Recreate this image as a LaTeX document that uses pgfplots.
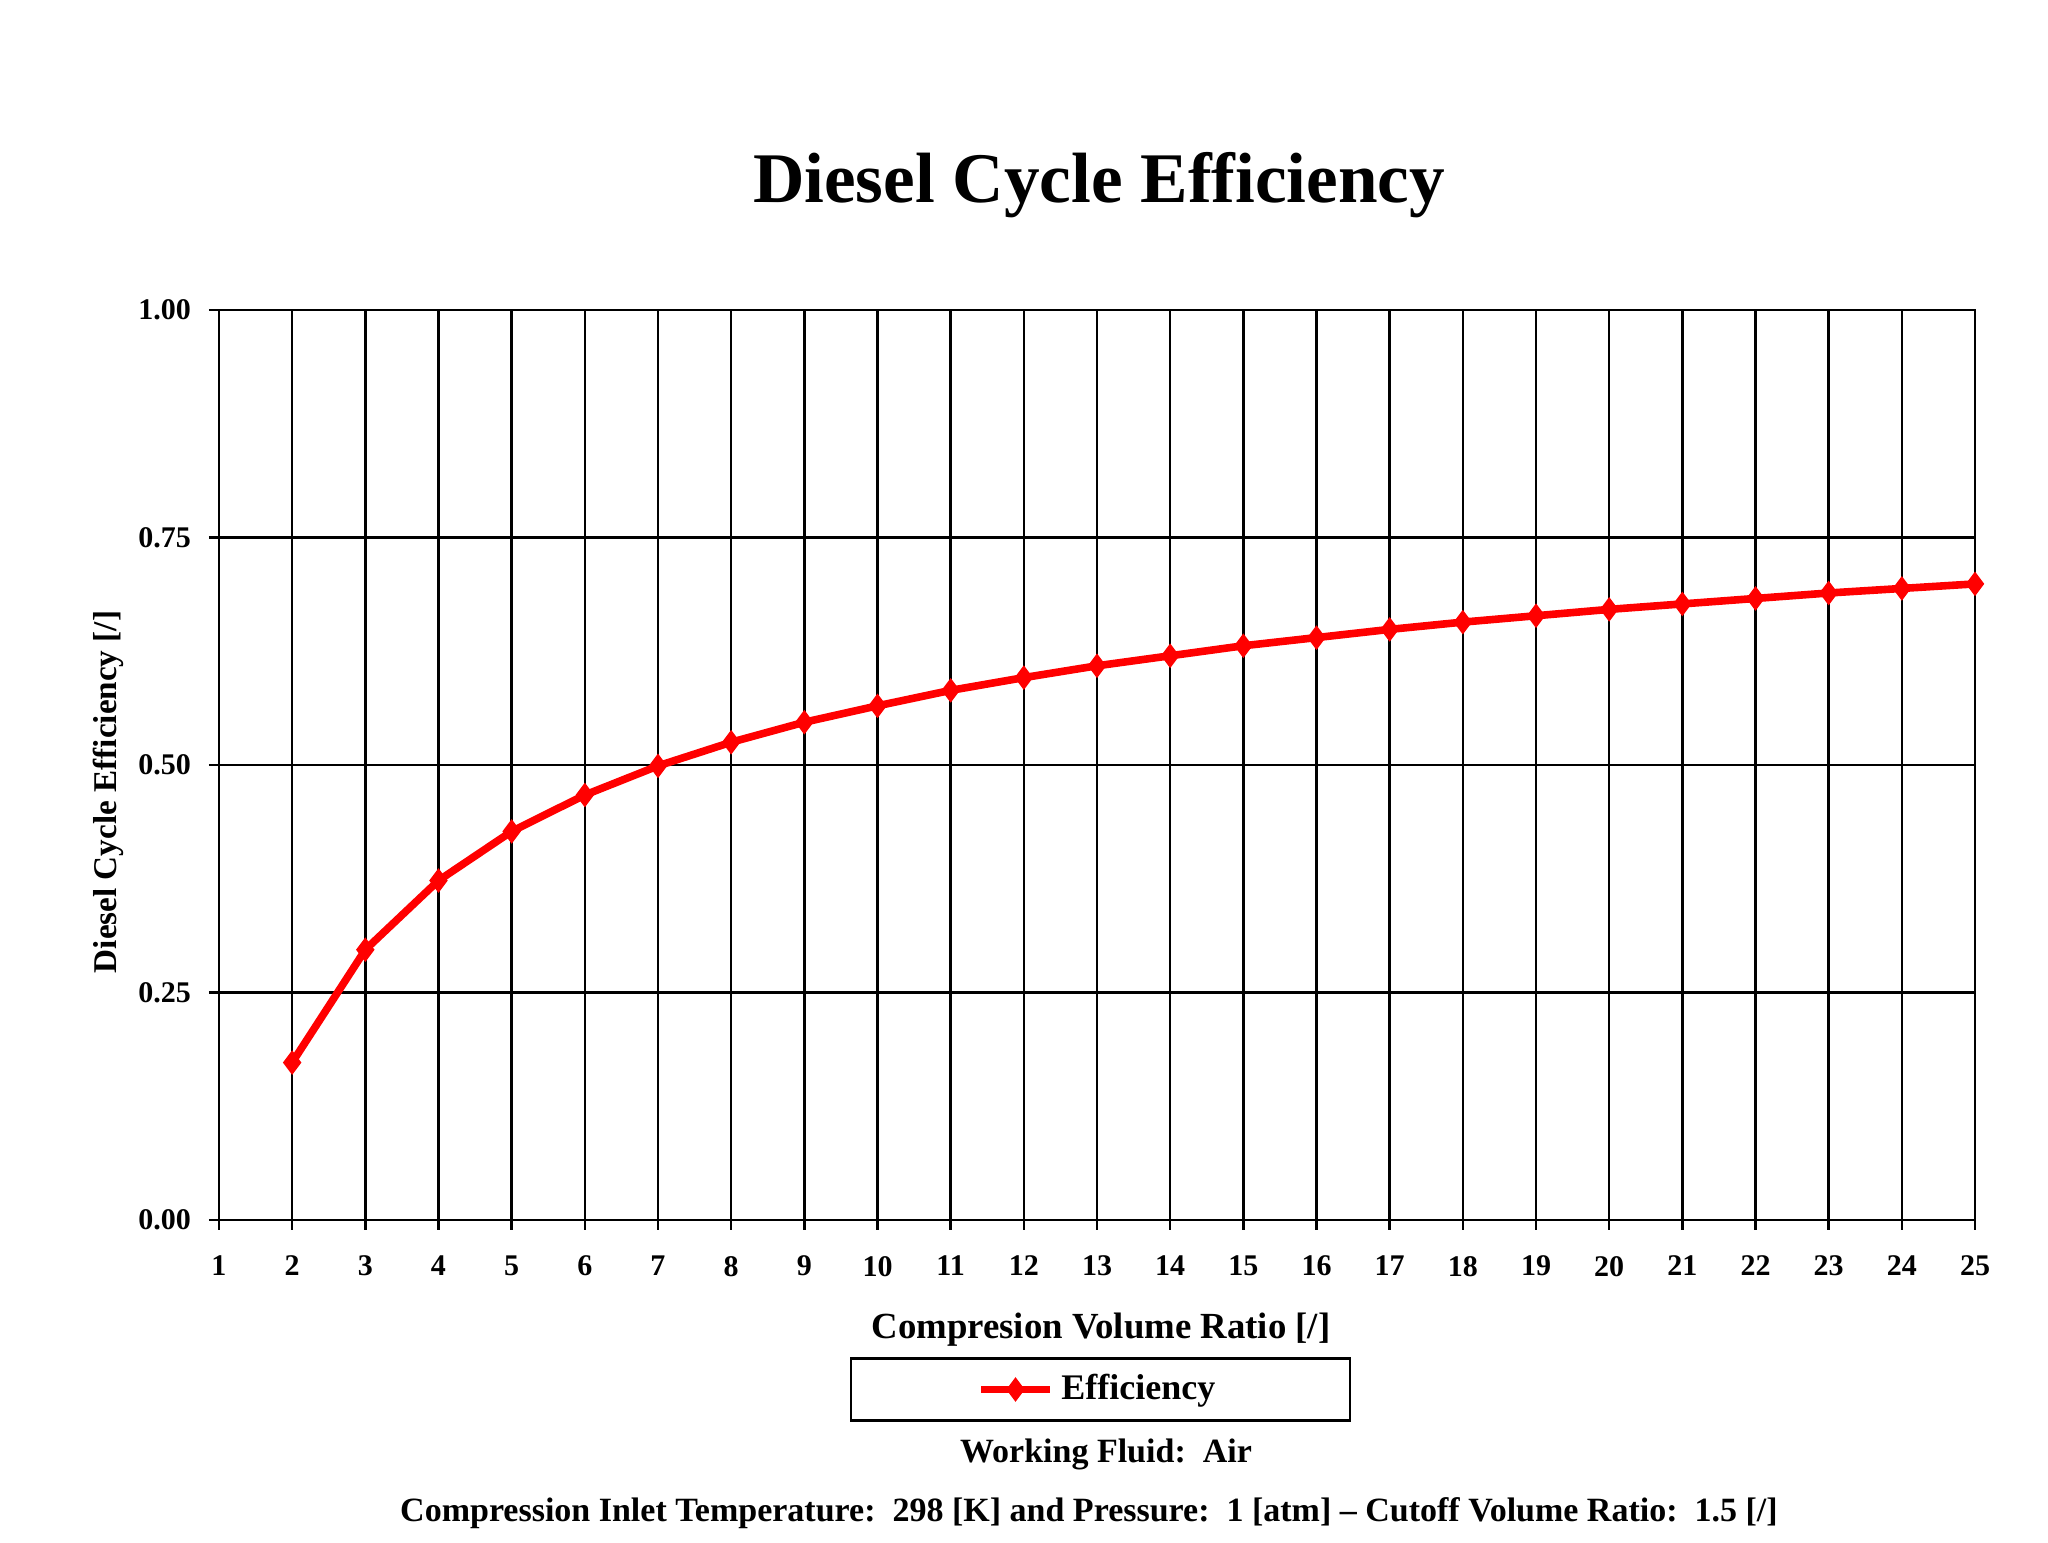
\documentclass[border=0pt]{standalone}
\usepackage{pgfplots}
\pgfplotsset{compat=1.18}
\usepackage{fontspec}
\setmainfont{Liberation Serif}

\begin{document}
\begin{tikzpicture}
% canvas in reference pixels (1 px = 0.25pt), origin at the axis' lower left corner
\begin{scope}[x=0.25pt,y=0.25pt]
\path[use as bounding box] (-219,-316) rectangle (1829,1220);
\end{scope}

\begin{axis}[
  scale only axis,
  width=439pt, height=227.5pt,
  xmin=1, xmax=25, ymin=0, ymax=1,
  xtick={1,2,...,25},
  ytick={0,0.25,0.5,0.75,1},
  yticklabel style={/pgf/number format/fixed, /pgf/number format/fixed zerofill,
    /pgf/number format/precision=2, xshift=-1pt},
  /pgf/number format/assume math mode=true,
  tick label style={font=\bfseries\fontsize{7.5}{8.5}\selectfont},
  xtick pos=left, ytick pos=left,
  tick align=outside,
  major tick length=2.5pt,
  tick style={black, line width=0.6pt},
  grid=major,
  major grid style={black, line width=0.6pt},
  axis line style={black, line width=0.6pt},
  xticklabel style={yshift=-3pt},
  legend style={at={(0.502,-0.1863)}, anchor=center, draw=black, line width=0.6pt,
    inner xsep=31.7pt, inner ysep=1.85pt,
    font=\bfseries\fontsize{9}{10}\selectfont},
  legend cell align=left,
  legend image post style={mark=diamond*, mark size=1.5pt},
]
\addplot[red, line width=1.9pt, mark=diamond*, mark size=1.5pt]
coordinates {(2,0.173) (3,0.297) (4,0.373) (5,0.427) (6,0.467) (7,0.499)
  (8,0.525) (9,0.547) (10,0.565) (11,0.582) (12,0.596) (13,0.609)
  (14,0.620) (15,0.631) (16,0.640) (17,0.649) (18,0.657) (19,0.664)
  (20,0.671) (21,0.677) (22,0.683) (23,0.689) (24,0.694) (25,0.699)};
\legend{Efficiency}
\end{axis}

\begin{scope}[x=0.25pt,y=0.25pt]
\node[anchor=base, font=\bfseries\fontsize{17.8}{20}\selectfont] at (880,1017) {Diesel Cycle Efficiency};
\node[rotate=90, font=\bfseries\fontsize{8.3}{10}\selectfont] at (-111,428) {Diesel Cycle Efficiency [/]};
\node[anchor=base, font=\bfseries\fontsize{9.2}{10}\selectfont] at (882,-119) {Compresion Volume Ratio [/]};
\node[anchor=base, font=\bfseries\fontsize{8.5}{10}\selectfont] at (887,-243) {Working Fluid:\ \ Air};
\node[anchor=base, font=\bfseries\fontsize{8.5}{10}\selectfont] at (870,-302) {Compression Inlet Temperature:\ \ 298 [K] and Pressure:\ \ 1 [atm] -- Cutoff Volume Ratio:\ \ 1.5 [/]};
\end{scope}
\end{tikzpicture}
\end{document}
